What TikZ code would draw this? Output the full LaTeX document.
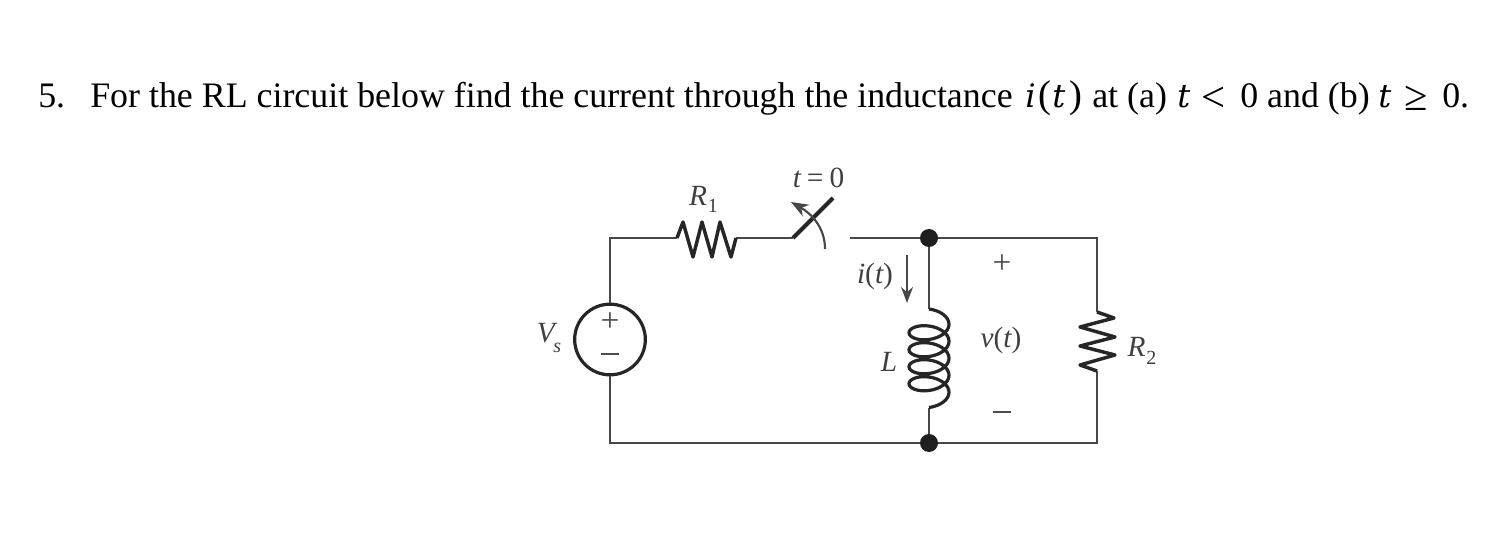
\documentclass[tikz,border=0pt]{standalone}
\usepackage{fontspec}
\setmainfont{Liberation Serif}
\newfontfamily\mathlike{DejaVu Serif}[Scale=0.9]
\usetikzlibrary{arrows.meta}
\tikzset{
 wire/.style={draw=black!72,line width=1.6pt,line join=miter},
 comp/.style={draw=black!85,line width=2.6pt,line join=round},
 dot/.style={circle,fill=black!88,inner sep=0pt,minimum size=13.5pt},
 lab/.style={inner sep=0pt,text=black!75,font=\fontsize{22}{22}\selectfont\itshape,anchor=base},
 sgn/.style={inner sep=0pt,text=black!70,font=\fontsize{25}{25}\selectfont,anchor=center},
 ttl/.style={inner sep=0pt,anchor=base west,text=black,font=\fontsize{26.9}{27}\selectfont},
 ttm/.style={ttl,font=\fontsize{27}{27}\selectfont\mathlike\itshape},
 ttr/.style={ttl,font=\fontsize{32}{32}\selectfont},
 ttp/.style={ttl,font=\fontsize{29}{29}\selectfont},
}
\begin{document}
\begin{tikzpicture}[x=0.75pt,y=-0.75pt]
\useasboundingbox (0,0) rectangle (1506,538);
\node[ttl] (t1) at (38,107.5) {5.};
\node[ttl] (t2) at (90,107.5) {For the RL circuit below find the current through the inductance};
\node[ttm] (t3) at (1025,107.5) {i};
\node[ttp] (t3a) at (1038,107.5) {(};
\node[ttm] (t3b) at (1052,107.5) {t};
\node[ttp] (t3c) at (1069,107.5) {)};
\node[ttl] (t4) at (1092,107.5) {at (a)};
\node[ttm] (t5) at (1177,107.5) {t};
\node[ttr] (t6) at (1201,111.5) {<};
\node[ttl] (t7) at (1240,107.5) {0 and (b)};
\node[ttm] (t8) at (1378,107.5) {t};
\node[ttr] (t9) at (1404,110.5) {≥};
\node[ttl] (t10) at (1442,107.5) {0.};
\coordinate (tl) at (610,238);
\coordinate (bl) at (610,443);
\coordinate (tr) at (1097,238);
\coordinate (br) at (1097,443);
\coordinate (piv) at (793,238);
\coordinate (swr) at (850,238);
\coordinate (swe) at (833,198);
\node[dot] (nt) at (929,238) {};
\node[dot] (nb) at (929,443) {};
\node[circle,draw=black!85,line width=2.4pt,minimum size=53pt,inner sep=0pt] (vs) at (610,339.5) {};
\coordinate (r1a) at (677,238);
\coordinate (r1b) at (736,238);
\coordinate (la) at (929,309);
\coordinate (lb) at (929,408);
\coordinate (r2a) at (1097,312);
\coordinate (r2b) at (1097,371);
\draw[wire] (vs.north) -- (tl) -- (r1a);
\draw[wire] (r1b) -- (piv);
\draw[wire] (swr) -- (nt) -- (tr) -- (r2a);
\draw[wire] (r2b) -- (br) -- (nb) -- (bl) -- (vs.south);
\draw[wire] (nt) -- (la);
\draw[wire] (lb) -- (nb);
\draw[comp] (r1a) -- (683,222) -- (693,257) -- (702,222) -- (712,257) -- (720,222) -- (731,257) -- (r1b);
\draw[comp] (r2a) -- (1114,318) -- (1080,327) -- (1115,337) -- (1080,346) -- (1115,355) -- (1080,365) -- (r2b);
\draw[comp,line width=3pt] (piv) -- (swe);
\draw[wire,-{Stealth[length=13pt,width=10pt]}] (825,249) .. controls (825,228) and (812,214) .. (791,202);
\draw[comp,line width=2.4pt] plot[smooth,samples=145,domain=0:1620,variable=\a] ({929+20*sin(\a)},{320+\a/360*17-11*cos(\a)});
\draw[wire,line width=1.3pt,-{Stealth[length=12pt,width=9pt]}] (907,255) -- (907,303);
\node[sgn] (vp) at (610,322) {+};
\node[sgn] (vm) at (610,354) {\rule{13.5pt}{1.4pt}};
\node[sgn] (op) at (1002,264) {+};
\node[sgn] (om) at (1002,412) {\rule{13.5pt}{1.4pt}};
\node[lab] (lr1) at (703.5,206) {R\kern0.5pt\raisebox{-5pt}{\fontsize{15}{15}\selectfont\upshape 1}};
\node[lab] (lt) at (818.5,187.5) {t\kern4.5pt{\upshape=}\kern4.5pt{\upshape 0}};
\node[lab] (li) at (875,284) {i{\upshape(}t{\upshape)}};
\node[lab] (ll) at (889,371) {L};
\node[lab] (lv) at (1001,347) {v{\upshape(}t{\upshape)}};
\node[lab] (lr2) at (1142,356) {R\kern0.5pt\raisebox{-6pt}{\fontsize{15}{15}\selectfont\upshape 2}};
\node[lab] (lvs) at (549,342) {V\kern-1pt\raisebox{-8pt}{\fontsize{15}{15}\selectfont s}};
\end{tikzpicture}
\end{document}
